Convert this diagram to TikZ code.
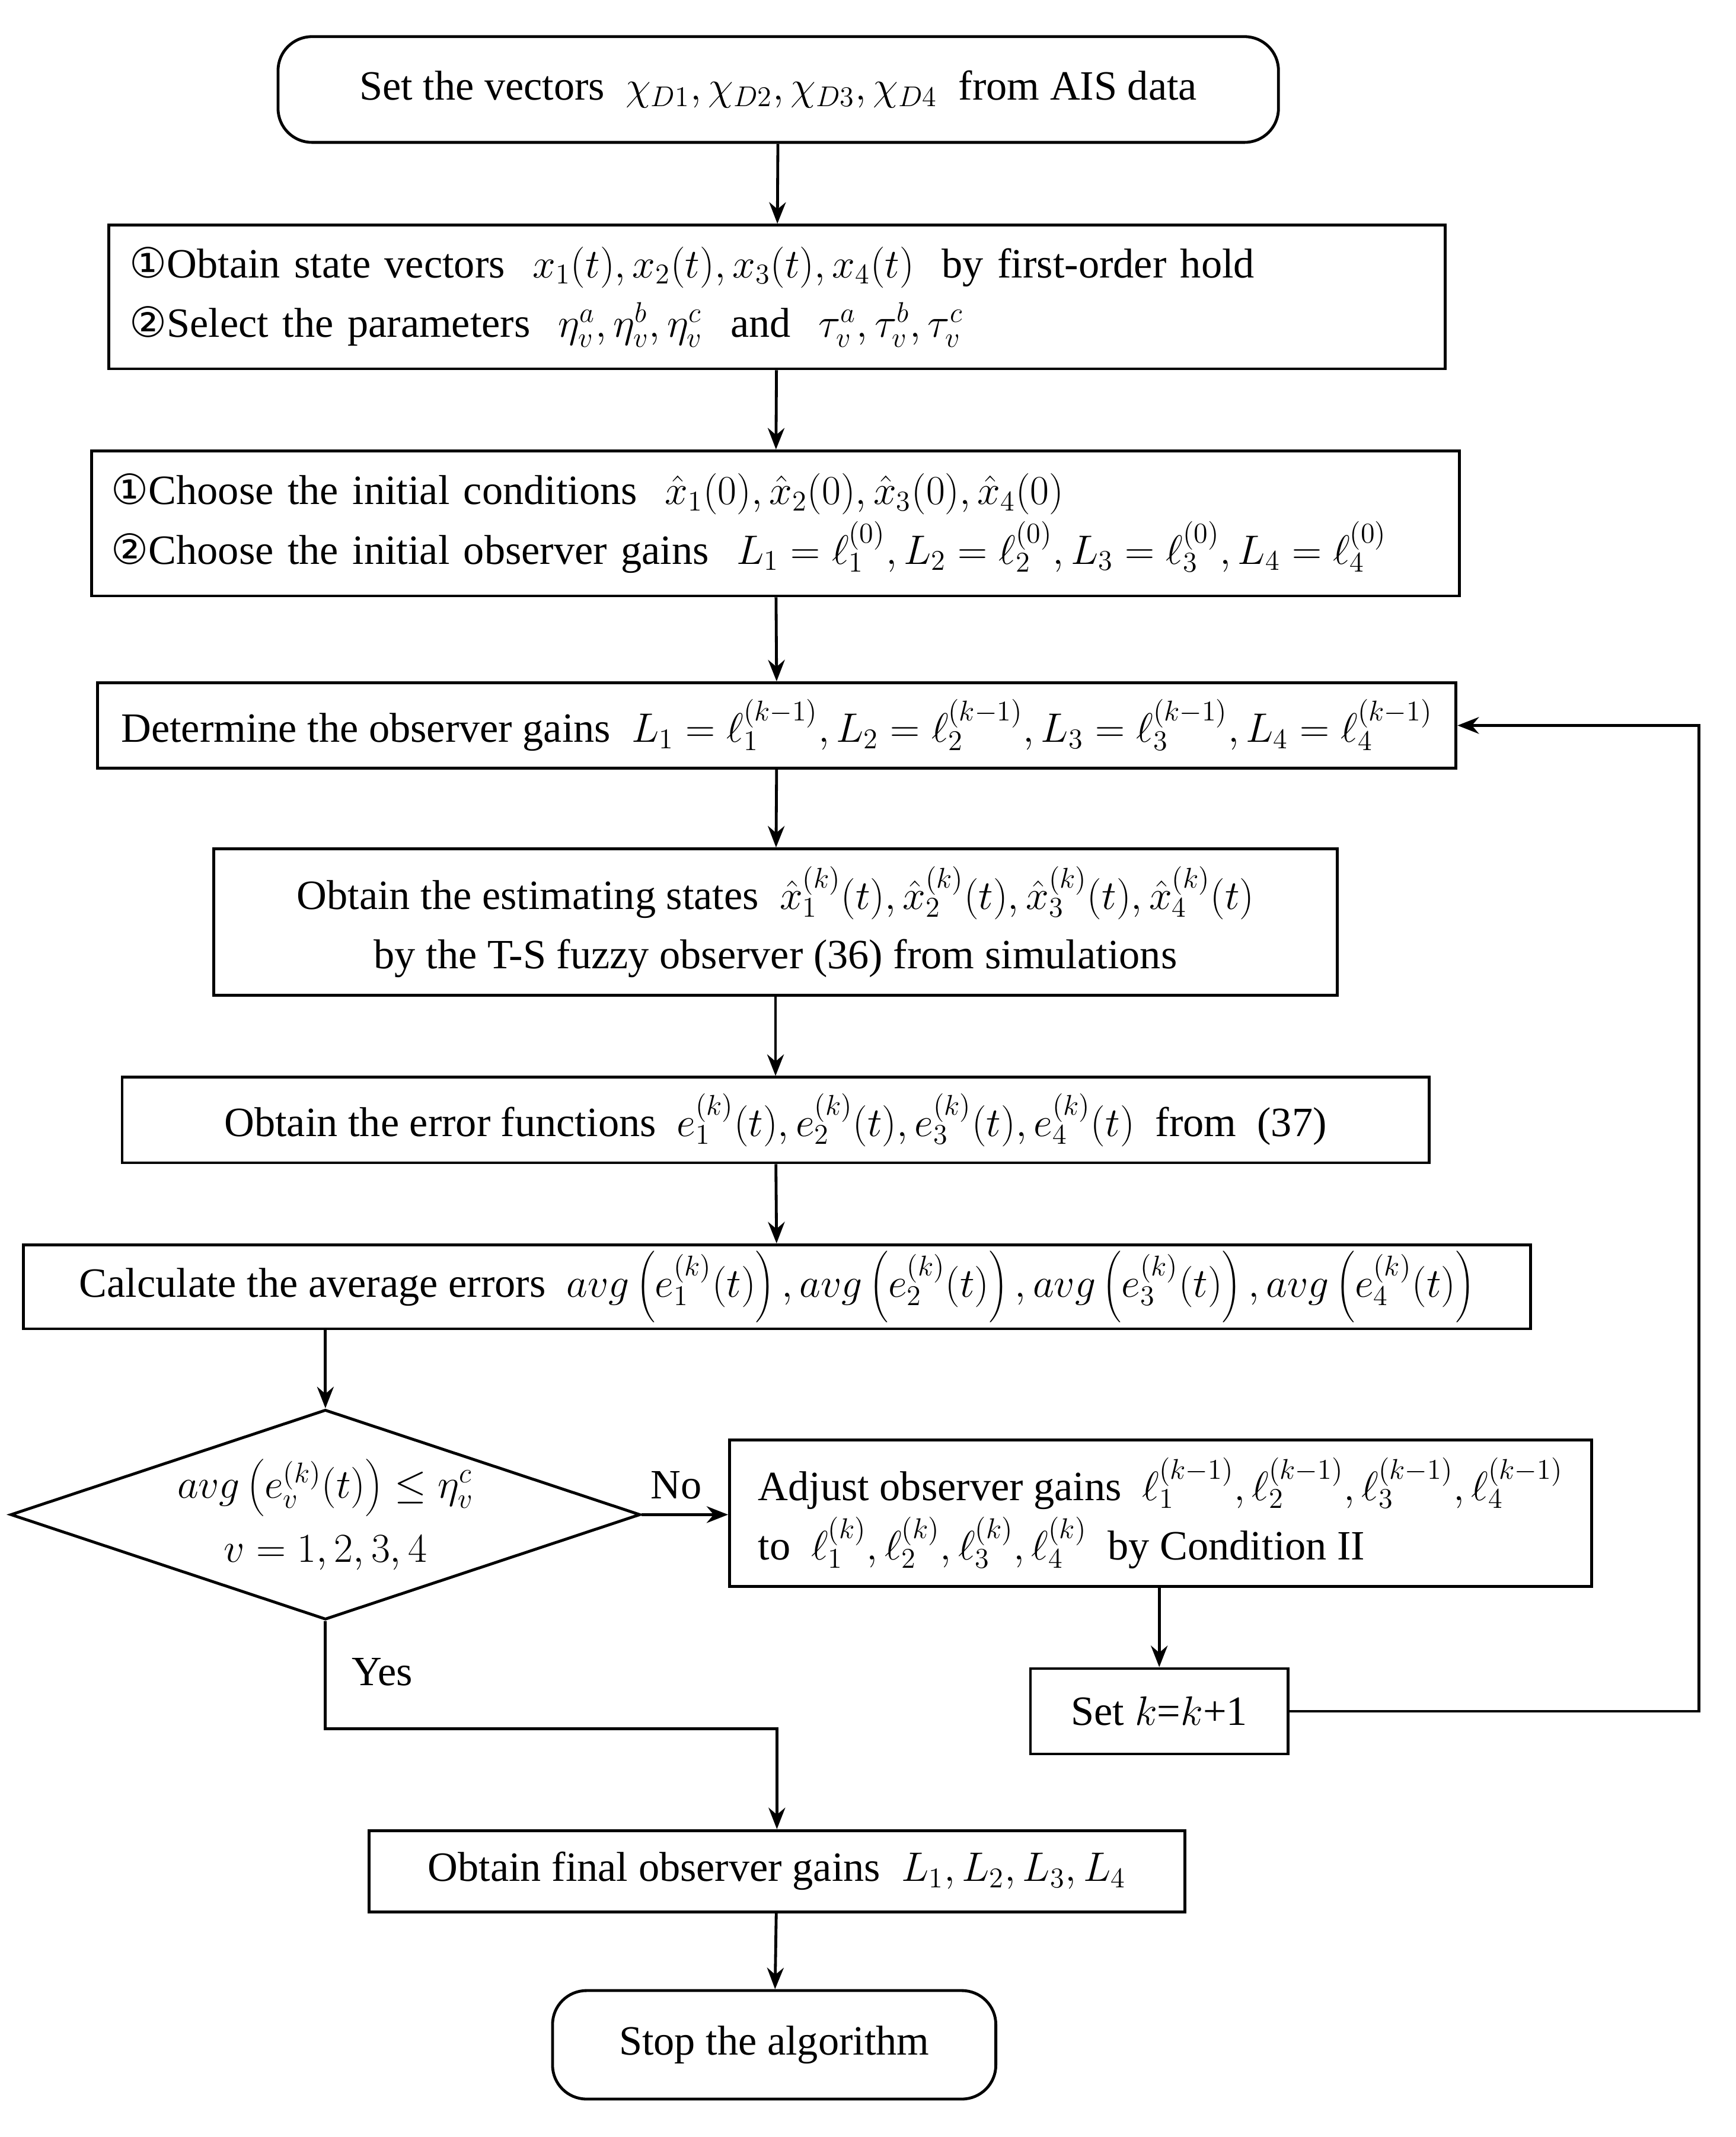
\documentclass[tikz,border=0pt]{standalone}
\usepackage{fontspec}
\setmainfont{Liberation Serif}
\newfontfamily\circfont{DejaVu Sans}
\usetikzlibrary{shapes.geometric,arrows.meta}
\newcommand{\cA}{{\circfont ①}}
\newcommand{\cB}{{\circfont ②}}
\begin{document}
\fontsize{17.5}{25}\selectfont
\begin{tikzpicture}[x=0.02cm,y=-0.02cm,
  box/.style={draw,line width=1.2pt,inner sep=2pt,align=center},
  rbox/.style={box,rounded corners=0.5cm},
  ar/.style={-{Stealth[length=9pt,width=7pt]},line width=1.2pt}]
\useasboundingbox (0,0) rectangle (1280,1576);
\node[rbox,minimum width=14.76cm,minimum height=1.56cm] (b1) at (574,66) {Set the vectors\ \ $\chi_{D1},\chi_{D2},\chi_{D3},\chi_{D4}$\ \ from AIS data};
\node[box,minimum width=19.72cm,minimum height=2.12cm,text width=19.1cm,align=left] (b2) at (573,219) {\cA Obtain state vectors\ \ $x_1(t),x_2(t),x_3(t),x_4(t)$\ \ by first-order hold\\ \cB Select the parameters\ \ $\eta_v^a,\eta_v^b,\eta_v^c$\ \ and\ \ $\tau_v^a,\tau_v^b,\tau_v^c$};
\node[box,minimum width=20.18cm,minimum height=2.14cm,text width=19.6cm,align=left] (b3) at (572,386) {\cA Choose the initial conditions\ \ $\hat x_1(0),\hat x_2(0),\hat x_3(0),\hat x_4(0)$\\ \cB Choose the initial observer gains\ \ $L_1=\ell_1^{(0)},L_2=\ell_2^{(0)},L_3=\ell_3^{(0)},L_4=\ell_4^{(0)}$};
\node[box,minimum width=20.04cm,minimum height=1.26cm] (b4) at (573,535) {Determine the observer gains\ \ $L_1=\ell_1^{(k-1)},L_2=\ell_2^{(k-1)},L_3=\ell_3^{(k-1)},L_4=\ell_4^{(k-1)}$};
\node[box,minimum width=16.58cm,minimum height=2.16cm] (b5) at (572,680) {Obtain the estimating states\ \ $\hat x_1^{(k)}(t),\hat x_2^{(k)}(t),\hat x_3^{(k)}(t),\hat x_4^{(k)}(t)$\\ by the T-S fuzzy observer (36) from simulations};
\node[box,minimum width=19.28cm,minimum height=1.26cm] (b6) at (572,826) {Obtain the error functions\ \ $e_1^{(k)}(t),e_2^{(k)}(t),e_3^{(k)}(t),e_4^{(k)}(t)$\ \ from\ \ (37)};
\node[box,minimum width=22.24cm,minimum height=1.24cm] (b7) at (573,949) {Calculate the average errors\ \ $avg\left(e_1^{(k)}(t)\right),avg\left(e_2^{(k)}(t)\right),avg\left(e_3^{(k)}(t)\right),avg\left(e_4^{(k)}(t)\right)$};
\node[draw,line width=1.2pt,diamond,aspect=3,inner sep=0pt,minimum width=9.2cm,minimum height=3cm,align=center] (d) at (240,1117) {$avg\left(e_v^{(k)}(t)\right)\le\eta_v^c$\\[2pt] $v=1,2,3,4$};
\node[box,minimum width=12.72cm,minimum height=2.16cm,align=left] (adj) at (856,1116) {Adjust observer gains\ \ $\ell_1^{(k-1)},\ell_2^{(k-1)},\ell_3^{(k-1)},\ell_4^{(k-1)}$\\ to\ \ $\ell_1^{(k)},\ell_2^{(k)},\ell_3^{(k)},\ell_4^{(k)}$\ \ by Condition II};
\node[box,minimum width=3.8cm,minimum height=1.26cm] (sk) at (855,1262) {Set $k$=$k$+1};
\node[box,minimum width=12.04cm,minimum height=1.2cm] (fin) at (573,1380) {Obtain final observer gains\ \ $L_1,L_2,L_3,L_4$};
\node[rbox,minimum width=6.54cm,minimum height=1.6cm] (stop) at (571,1508) {Stop the algorithm};
\draw[ar] (b1) -- (b2);
\draw[ar] (b2) -- (b3);
\draw[ar] (b3) -- (b4);
\draw[ar] (b4) -- (b5);
\draw[ar] (b5) -- (b6);
\draw[ar] (b6) -- (b7);
\draw[ar] (b7.south -| d.north) -- (d.north);
\draw[ar] (d.east) -- node[above,pos=0.4] {No} (d.east -| adj.west);
\draw[ar] (adj.south -| sk.north) -- (sk.north);
\coordinate (c1) at (1253,1262);
\coordinate (c2) at (1253,535);
\draw[ar] (sk.east) -- (c1) -- (c2) -- (b4.east);
\coordinate (y1) at (240,1275);
\coordinate (y2) at (573,1275);
\draw[ar] (d.south) -- (y1) -- (y2) -- (fin.north);
\node (yes) at (282,1233) {Yes};
\draw[ar] (fin) -- (stop);
\end{tikzpicture}
\end{document}
